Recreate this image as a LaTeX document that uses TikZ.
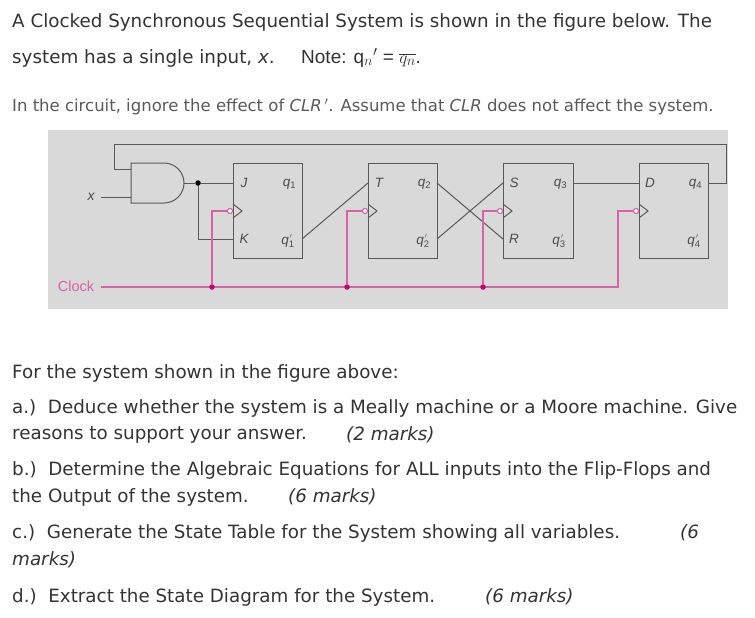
\documentclass[tikz,border=0pt]{standalone}
\usepackage{fontspec}
\setmainfont{DejaVu Sans}
\newfontfamily\circfont{Liberation Sans}
\definecolor{clkc}{HTML}{D862A6}
\definecolor{dotc}{HTML}{C8006E}
\newcommand{\qlab}[2]{q\raisebox{-2.5pt}{\fontsize{9.5}{10}\selectfont\upshape #1}\hspace{-4.5pt}\raisebox{3pt}{\fontsize{10}{10}\selectfont #2}}
\begin{document}
\begin{tikzpicture}[x=1pt,y=-1pt,
  txt/.style={anchor=west,inner sep=0pt,text=black!80,font=\fontsize{18.3}{20}\selectfont},
  wire/.style={draw=black!65,line width=1pt},
  clk/.style={draw=clkc,line width=1.1pt},
  ff/.style={draw=black!65,line width=1pt,fill=black!15},
  lab/.style={inner sep=0pt,text=black!70,font=\circfont\itshape\fontsize{13.5}{14}\selectfont},
  cdot/.style={circle,fill=dotc,inner sep=0pt,minimum size=5.5pt}]
\useasboundingbox (0,0) rectangle (755,618);
\fill[black!15] (48,130) rectangle (728,309);
% text
\node[txt] (t1) at (12,22) {A Clocked Synchronous Sequential System is shown in the figure below. The};
\node[txt] (t2) at (12,58) {system has a single input, \textit{x}.};
\node[txt,font=\circfont\fontsize{19}{20}\selectfont] (t2b) at (301,58) {Note: q$_n$$'$ = $\overline{q_n}$.};
\node[txt,text=black!65,font=\fontsize{16.5}{18}\selectfont] (t3) at (12,107) {In the circuit, ignore the effect of \textit{CLR\,$'$}. Assume that \textit{CLR} does not affect the system.};
\node[txt] (t4) at (12,373) {For the system shown in the figure above:};
\node[txt] (t5) at (12,408) {a.)\ \ Deduce whether the system is a Meally machine or a Moore machine. Give};
\node[txt] (t6) at (12,435) {reasons to support your answer.};
\node[txt] (t6b) at (346,435) {\textit{(2 marks)}};
\node[txt] (t7) at (12,470) {b.)\ \ Determine the Algebraic Equations for ALL inputs into the Flip-Flops and};
\node[txt] (t8) at (12,497) {the Output of the system.};
\node[txt] (t8b) at (288,497) {\textit{(6 marks)}};
\node[txt] (t9) at (12,533) {c.)\ \ Generate the State Table for the System showing all variables.};
\node[txt] (t9b) at (680,533) {\textit{(6}};
\node[txt] (t10) at (12,560) {\textit{marks)}};
\node[txt] (t11) at (12,597) {d.)\ \ Extract the State Diagram for the System.};
\node[txt] (t11b) at (485,597) {\textit{(6 marks)}};
% flip-flops
\foreach \n/\a/\b in {1/233/302,2/368/437,3/503/573,4/639/708}{
  \draw[ff] (\a,163) rectangle (\b,258);
  \coordinate (in\n a) at (\a,183); \coordinate (in\n b) at (\a,239);
  \coordinate (out\n a) at (\b,183); \coordinate (out\n b) at (\b,239);
  \draw[wire] (\a,204) -- (\a+9,211) -- (\a,218);
  \draw[clk,fill=white] (\a-3,211) circle (2.6pt);
  \coordinate (ck\n) at (\a-5.6,211);
}
\node[lab] at (244,183) {J}; \node[lab] at (244,239) {K};
\node[lab] at (379,183) {T};
\node[lab] at (514,183) {S}; \node[lab] at (514,239) {R};
\node[lab] at (650,183) {D};
\foreach \n/\b in {1/302,2/437,3/573,4/708}{
  \node[lab] at (\b-15,184) {\qlab{\n}{}};
  \node[lab] at (\b-15,241) {\qlab{\n}{$'$}};
}
% AND gate
\draw[wire,fill=black!15] (131,163) -- (164,163) arc[start angle=90,end angle=-90,radius=20pt] -- (131,203) -- cycle;
\coordinate (andout) at (184,183);
\node[lab,font=\circfont\itshape\fontsize{14}{14}\selectfont] (xl) at (91,197) {x};
\draw[wire] (101,197) -- (131,197);
\node[circle,fill=black,inner sep=0pt,minimum size=5.5pt] (jd) at (198,183) {};
\draw[wire] (andout) -- (jd) -- (in1a);
\draw[wire] (jd) |- (in1b);
\draw[wire] (out1b) -- (in2a);
\draw[wire] (out2a) -- (in3b);
\draw[wire] (out2b) -- (in3a);
\draw[wire] (out3a) -- (in4a);
\draw[wire] (out4a) -- (726,183) -- (726,144) -- (114,144) -- (114,169) -- (131,169);
% clock
\node[inner sep=0pt,text=clkc,font=\circfont\fontsize{14.5}{15}\selectfont] (cl) at (76,286) {Clock};
\draw[clk] (101,287) -- (618,287) -- (618,211) -- (ck4);
\node[cdot] (d1) at (212,287) {};
\node[cdot] (d2) at (347,287) {};
\node[cdot] (d3) at (483,287) {};
\draw[clk] (d1) |- (ck1);
\draw[clk] (d2) |- (ck2);
\draw[clk] (d3) |- (ck3);
\end{tikzpicture}
\end{document}
